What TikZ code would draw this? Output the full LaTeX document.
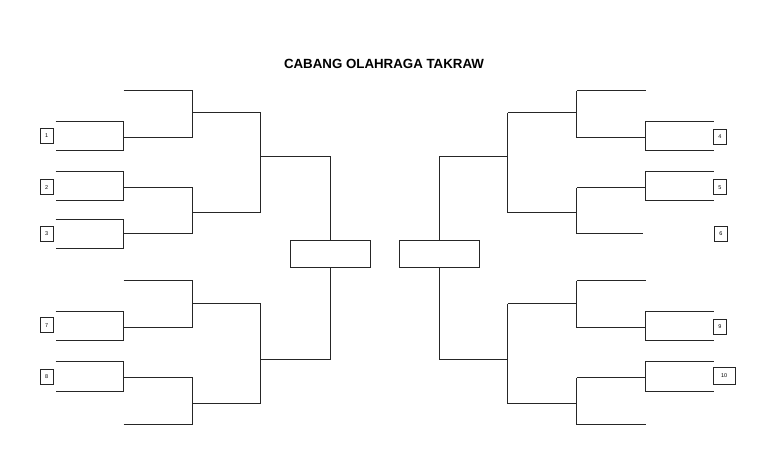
\documentclass[tikz,border=0pt]{standalone}
\usepackage{fontspec}
\setmainfont{Liberation Sans}
\usepackage{xcolor}
\usetikzlibrary{positioning}
\tikzset{
  garis/.style={line width=1.5pt, draw=black!85},
  kotak/.style={draw=black!85, line width=0.8pt, minimum width=13.3pt, minimum height=15pt, inner sep=0.5pt, font=\fontsize{5.5}{6}\selectfont},
  final/.style={draw=black!85, line width=1pt, minimum width=80pt, minimum height=27pt, inner sep=0pt}
}

\begin{document}
\begin{tikzpicture}[x=1pt, y=-1pt]
\useasboundingbox (0,0) rectangle (768,466);

% 标题
\node[font=\bfseries\fontsize{13.3}{14}\selectfont] (judul) at (384,64) {CABANG OLAHRAGA TAKRAW};

% 左侧 第一轮 (成对)
\foreach \a/\b in {121.5/150.5, 171.5/200.5, 219.5/248.5, 311.5/340.5, 361.5/391.5} {
    \draw[garis] (55.5,\a) -| (123.5,\b) -- (55.5,\b);
}
% 左侧 单线
\foreach \y in {90.5, 280.5, 424.5} {
    \draw[garis] (123.5,\y) -- (192.5,\y);
}
\foreach \y in {137.5, 187.5, 233.5, 327.5, 377.5} {
    \draw[garis] (123.5,\y) -- (192.5,\y);
}
% 左侧 第二轮
\foreach \ya/\yb/\yo in {90.5/137.5/112.5, 187.5/233.5/212.5, 280.5/327.5/303.5, 377.5/424.5/403.5} {
    \draw[garis] (192.5,\ya) -- (192.5,\yb) (192.5,\yo) -- (260.5,\yo);
}
% 左侧 第三轮
\draw[garis] (260.5,112.5) -- (260.5,212.5);
\draw[garis] (260.5,303.5) -- (260.5,403.5);
\coordinate (ka) at (260.5,156.5);
\coordinate (kb) at (260.5,359.5);

% 右侧 第一轮 (成对)
\foreach \a/\b in {121.5/150.5, 171.5/200.5, 311.5/340.5, 361.5/391.5} {
    \draw[garis] (713.5,\a) -| (645.5,\b) -- (713.5,\b);
}
% 右侧 单线
\foreach \y in {90.5, 280.5, 424.5} {
    \draw[garis] (645.5,\y) -- (576.5,\y);
}
\draw[garis] (642.5,233.5) -- (576.5,233.5);
\foreach \y in {137.5, 187.5, 327.5, 377.5} {
    \draw[garis] (645.5,\y) -- (576.5,\y);
}
% 右侧 第二轮
\foreach \ya/\yb/\yo in {90.5/137.5/112.5, 187.5/233.5/212.5, 280.5/327.5/303.5, 377.5/424.5/403.5} {
    \draw[garis] (576.5,\ya) -- (576.5,\yb) (576.5,\yo) -- (507.5,\yo);
}
% 右侧 第三轮
\draw[garis] (507.5,112.5) -- (507.5,212.5);
\draw[garis] (507.5,303.5) -- (507.5,403.5);
\coordinate (na) at (507.5,156.5);
\coordinate (nb) at (507.5,359.5);

% 决赛框
\node[final] (fl) at (330.5,254) {};
\node[final] (fr) at (439.5,254) {};
\draw[garis] (fl.north) |- (ka);
\draw[garis] (fl.south) |- (kb);
\draw[garis] (fr.north) |- (na);
\draw[garis] (fr.south) |- (nb);

% 编号
\node[kotak] (p1) at (46.7,135.8) {1};
\node[kotak] (p2) at (46.7,187.2) {2};
\node[kotak] (p3) at (46.7,233.7) {3};
\node[kotak] (p7) at (46.7,325.2) {7};
\node[kotak] (p8) at (46.7,377) {8};
\node[kotak] (p4) at (720,136.5) {4};
\node[kotak] (p5) at (720,187.2) {5};
\node[kotak] (p6) at (721,234) {6};
\node[kotak] (p9) at (720,326.7) {9};
\node[kotak, minimum width=21.7pt, minimum height=16.7pt] (p10) at (724.2,376) {10};

\end{tikzpicture}
\end{document}
